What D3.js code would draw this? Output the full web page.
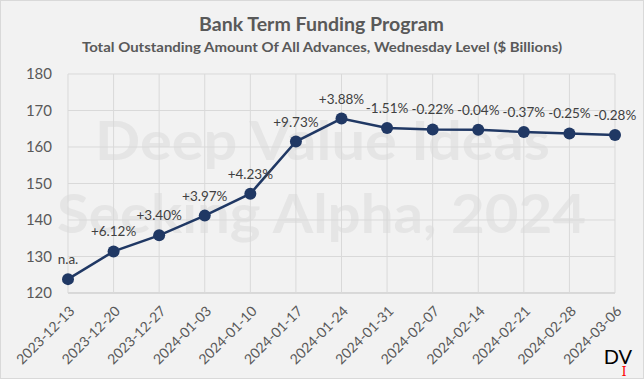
<!DOCTYPE html>
<html><head><meta charset="utf-8">
<script src="https://cdn.jsdelivr.net/npm/d3@7"></script>
<style>
html,body{margin:0;padding:0;background:#fff;}
svg{display:block;}
</style></head>
<body>
<svg id="chart" width="644" height="379"></svg>
<script>
const dates = ["2023-12-13","2023-12-20","2023-12-27","2024-01-03","2024-01-10","2024-01-17","2024-01-24","2024-01-31","2024-02-07","2024-02-14","2024-02-21","2024-02-28","2024-03-06"];
const values = [123.8, 131.4, 135.8, 141.2, 147.2, 161.5, 167.8, 165.2, 164.8, 164.7, 164.1, 163.7, 163.3];
const labels = ["n.a.","+6.12%","+3.40%","+3.97%","+4.23%","+9.73%","+3.88%","-1.51%","-0.22%","-0.04%","-0.37%","-0.25%","-0.28%"];
const yTicks = [120,130,140,150,160,170,180];

const W = 644, H = 379;
const m = {left: 68, right: 29, top: 74, bottom: 86};
const svg = d3.select("#chart");
const font = "Lato, 'Open Sans', sans-serif";

svg.append("rect").attr("x",0.5).attr("y",0.5).attr("width",W-1).attr("height",H-1)
  .attr("fill","#f2f2f2").attr("stroke","#d9d9d9");

const x = d3.scalePoint().domain(dates).range([m.left, W - m.right]);
const y = d3.scaleLinear().domain([120,180]).range([H - m.bottom, m.top]);

// watermark
const wm = svg.append("g").attr("font-family", font).attr("font-weight","bold")
  .attr("font-size", 53).attr("fill","#e5e5e5");
wm.append("text").attr("x", 95).attr("y", 160).attr("textLength", 455)
  .attr("lengthAdjust","spacingAndGlyphs").text("Deep Value Ideas");
wm.append("text").attr("x", 57).attr("y", 233).attr("textLength", 529)
  .attr("lengthAdjust","spacingAndGlyphs").text("Seeking Alpha, 2024");

// grid
const g = svg.append("g");
g.selectAll(".hg").data(yTicks).join("line")
  .attr("x1", m.left).attr("x2", W - m.right)
  .attr("y1", d => y(d)).attr("y2", d => y(d))
  .attr("stroke", d => d===120 ? "#bfbfbf" : "#d9d9d9").attr("stroke-width",1);
g.selectAll(".vg").data(dates).join("line")
  .attr("x1", d => x(d)).attr("x2", d => x(d))
  .attr("y1", m.top).attr("y2", H - m.bottom)
  .attr("stroke","#d9d9d9").attr("stroke-width",1);

// y axis labels
const yAxis = d3.axisLeft(y).tickValues(yTicks).tickSize(0).tickPadding(16);
const ya = svg.append("g").attr("transform",`translate(${m.left},0)`).call(yAxis);
ya.select(".domain").remove();
ya.selectAll("text").attr("font-family", font).attr("font-size", 15).attr("fill","#595959");

// x axis labels
const xAxis = d3.axisBottom(x).tickSize(0).tickPadding(0);
const xa = svg.append("g").attr("transform",`translate(0,${H - m.bottom})`).call(xAxis);
xa.select(".domain").remove();
xa.selectAll("text").attr("font-family", font).attr("font-size", 14).attr("fill","#595959")
  .attr("text-anchor","end").attr("dy",0)
  .attr("transform","translate(7,19) rotate(-45)");

// line
const pts = dates.map((d,i) => ({d, v: values[i], l: labels[i]}));
svg.append("path").datum(pts)
  .attr("d", d3.line().x(p => x(p.d)).y(p => y(p.v)))
  .attr("fill","none").attr("stroke","#203864").attr("stroke-width",2.5);
svg.selectAll(".pt").data(pts).join("circle")
  .attr("cx", p => x(p.d)).attr("cy", p => y(p.v)).attr("r", 6).attr("fill","#203864");

// data labels
svg.selectAll(".dl").data(pts).join("text")
  .attr("x", p => x(p.d)).attr("y", p => y(p.v) - 15)
  .attr("text-anchor","middle").attr("font-family", font).attr("font-size", 13.5)
  .attr("fill","#404040").text(p => p.l);

// titles
svg.append("text").attr("x", 199).attr("y", 31).attr("textLength", 245)
  .attr("lengthAdjust","spacingAndGlyphs")
  .attr("font-family", font).attr("font-weight","bold").attr("font-size", 18.5)
  .attr("fill","#595959").text("Bank Term Funding Program");
svg.append("text").attr("x", 82).attr("y", 52).attr("textLength", 480)
  .attr("lengthAdjust","spacingAndGlyphs")
  .attr("font-family", font).attr("font-weight","bold").attr("font-size", 14)
  .attr("fill","#595959").text("Total Outstanding Amount Of All Advances, Wednesday Level ($ Billions)");

// DV logo
svg.append("text").attr("x", 618).attr("y", 364).attr("text-anchor","middle")
  .attr("font-family", font).attr("font-size", 20).attr("fill","#000").text("DV");
svg.append("text").attr("x", 624).attr("y", 376).attr("text-anchor","middle")
  .attr("font-family", "'DejaVu Serif', serif").attr("font-size", 13).attr("fill","#ff0000").text("I");
</script>
</body></html>
